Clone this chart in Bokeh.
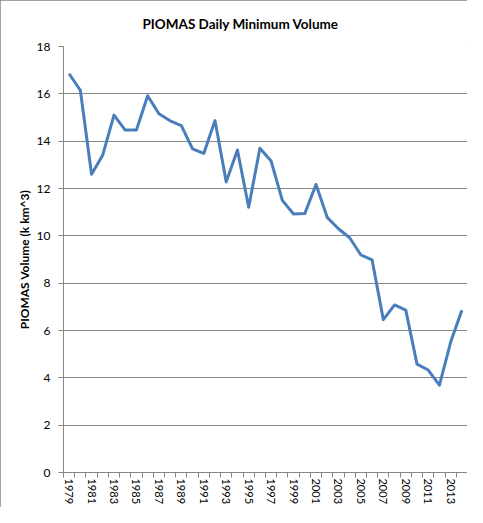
import math
from bokeh.plotting import figure
from bokeh.models import FixedTicker, Range1d
from bokeh.embed import file_html
from bokeh.resources import INLINE

years = list(range(1979, 2015))
volume = [16.85, 16.15, 12.6, 13.42, 15.1, 14.47, 14.47, 15.92, 15.16, 14.86,
          14.66, 13.67, 13.48, 14.87, 12.28, 13.63, 11.21, 13.7, 13.16, 11.5,
          10.92, 10.94, 12.17, 10.78, 10.3, 9.92, 9.19, 8.98, 6.46, 7.08,
          6.86, 4.58, 4.33, 3.69, 5.51, 6.86]
label_years = years[::2]
y_ticks = [0, 2, 4, 6, 8, 10, 12, 14, 16, 18]

FONT = "Lato"
GRID = "#868686"

p = figure(width=467, height=507, output_backend="svg", toolbar_location=None,
           x_range=Range1d(years[0] - 0.5, years[-1] + 0.5),
           y_range=Range1d(0, 18),
           min_border_left=63, min_border_right=0,
           min_border_top=46, min_border_bottom=30,
           title="PIOMAS Daily Minimum Volume")
p.styles = {"outline": "1px solid #868686", "outline-offset": "-1px"}

p.title.align = "left"
p.title.vertical_align = "top"
p.title.offset = 79
p.title.standoff = 25
p.title.text_font = FONT
p.title.text_font_size = "13.5px"
p.title.text_font_style = "bold"
p.title.text_color = "black"

p.line(years, volume, line_color="#4A7EBB", line_width=3, line_join="round")

p.outline_line_color = None
p.xgrid.grid_line_color = None
p.ygrid.grid_line_color = GRID
p.ygrid.ticker = FixedTicker(ticks=y_ticks)

p.yaxis.ticker = FixedTicker(ticks=y_ticks)
p.yaxis.axis_label = "PIOMAS Volume (k km^3)"
p.yaxis.axis_label_text_font = FONT
p.yaxis.axis_label_text_font_size = "12px"
p.yaxis.axis_label_text_font_style = "bold"
p.yaxis.axis_label_text_color = "black"
p.yaxis.axis_label_standoff = 2
p.yaxis.major_label_text_font = FONT
p.yaxis.major_label_text_font_size = "12px"
p.yaxis.major_label_text_color = "black"
p.yaxis.major_label_standoff = 8
p.yaxis.axis_line_color = GRID
p.yaxis.major_tick_line_color = GRID
p.yaxis.major_tick_out = 5
p.yaxis.major_tick_in = 0
p.yaxis.minor_tick_line_color = None

bounds = [y - 0.5 for y in years] + [years[-1] + 0.5]
p.xaxis.ticker = FixedTicker(ticks=label_years, minor_ticks=bounds)
p.xaxis.major_label_orientation = -math.pi / 2
p.xaxis.major_label_text_font = FONT
p.xaxis.major_label_text_font_size = "11px"
p.xaxis.major_label_text_color = "black"
p.xaxis.major_label_standoff = 1
p.xaxis.axis_line_color = GRID
p.xaxis.major_tick_line_color = None
p.xaxis.major_tick_out = 0
p.xaxis.major_tick_in = 0
p.xaxis.minor_tick_line_color = GRID
p.xaxis.minor_tick_out = 5
p.xaxis.minor_tick_in = 0

open("out.html", "w").write(file_html(p, INLINE))
